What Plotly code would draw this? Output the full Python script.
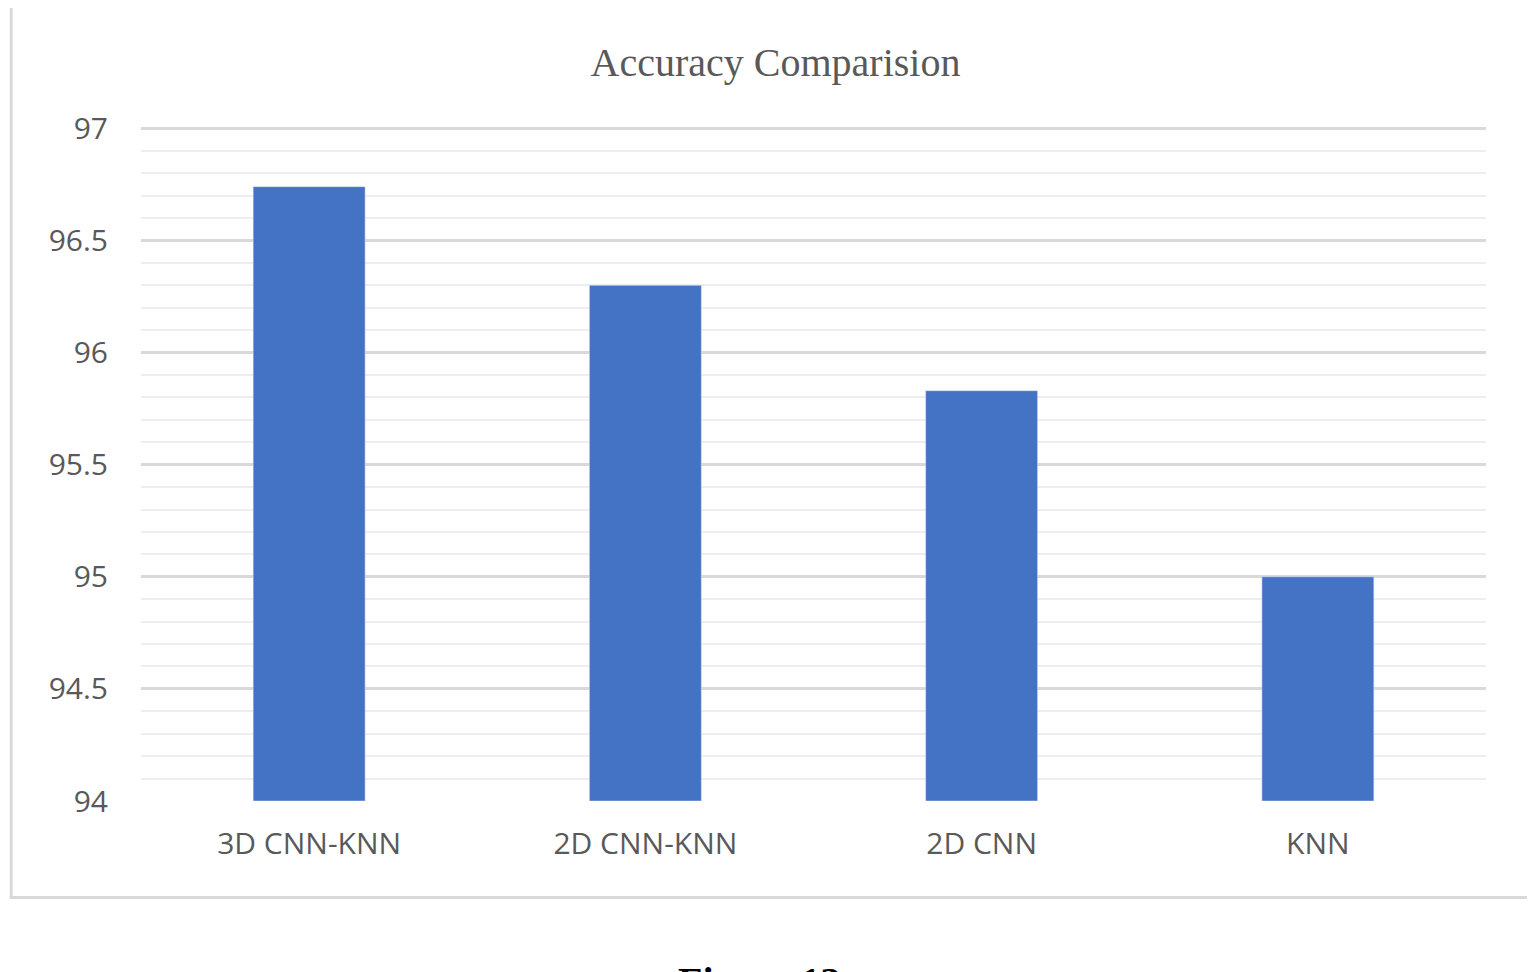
import plotly.graph_objects as go

categories = ["3D CNN-KNN", "2D CNN-KNN", "2D CNN", "KNN"]
accuracy = [96.74, 96.30, 95.83, 95.0]
tick_vals = [94, 94.5, 95, 95.5, 96, 96.5, 97]
tick_text = ["94", "94.5", "95", "95.5", "96", "96.5", "97"]

fig = go.Figure(go.Bar(x=categories, y=[v - 94 for v in accuracy], base=94,
                       marker_color="#4472C4", width=0.333))
fig.update_layout(
    width=1535, height=972, paper_bgcolor="white", plot_bgcolor="white",
    margin=dict(l=133, r=57, t=119, b=179),
    title=dict(text="Accuracy Comparision", x=0.5, xanchor="center", y=0.944, yanchor="middle",
               font=dict(family="Liberation Serif", size=40, color="#595959")),
    showlegend=False,
    xaxis=dict(tickfont=dict(family="Open Sans", size=30, color="#595959"), showline=False,
               ticks="", ticklabelstandoff=22),
    yaxis=dict(range=[94, 97.006], tickvals=tick_vals, ticktext=tick_text,
               tickfont=dict(family="Open Sans", size=30, color="#595959"),
               gridcolor="#D9D9D9", gridwidth=3, zeroline=False, ticklabelstandoff=32,
               minor=dict(dtick=0.1, showgrid=True, gridcolor="#EEEEEE", gridwidth=2)),
    shapes=[dict(type="rect", xref="paper", yref="paper", x0=-0.0965, x1=1.0344, y0=-0.143, y1=1.2,
                 line=dict(color="#D9D9D9", width=3))],
    annotations=[dict(text="<b>Figure 13</b>", xref="paper", yref="paper", x=0.46, y=-0.232,
                      showarrow=False, yanchor="top",
                      font=dict(family="Liberation Serif", size=40, color="black"))],
)
fig.write_html("out.html")
